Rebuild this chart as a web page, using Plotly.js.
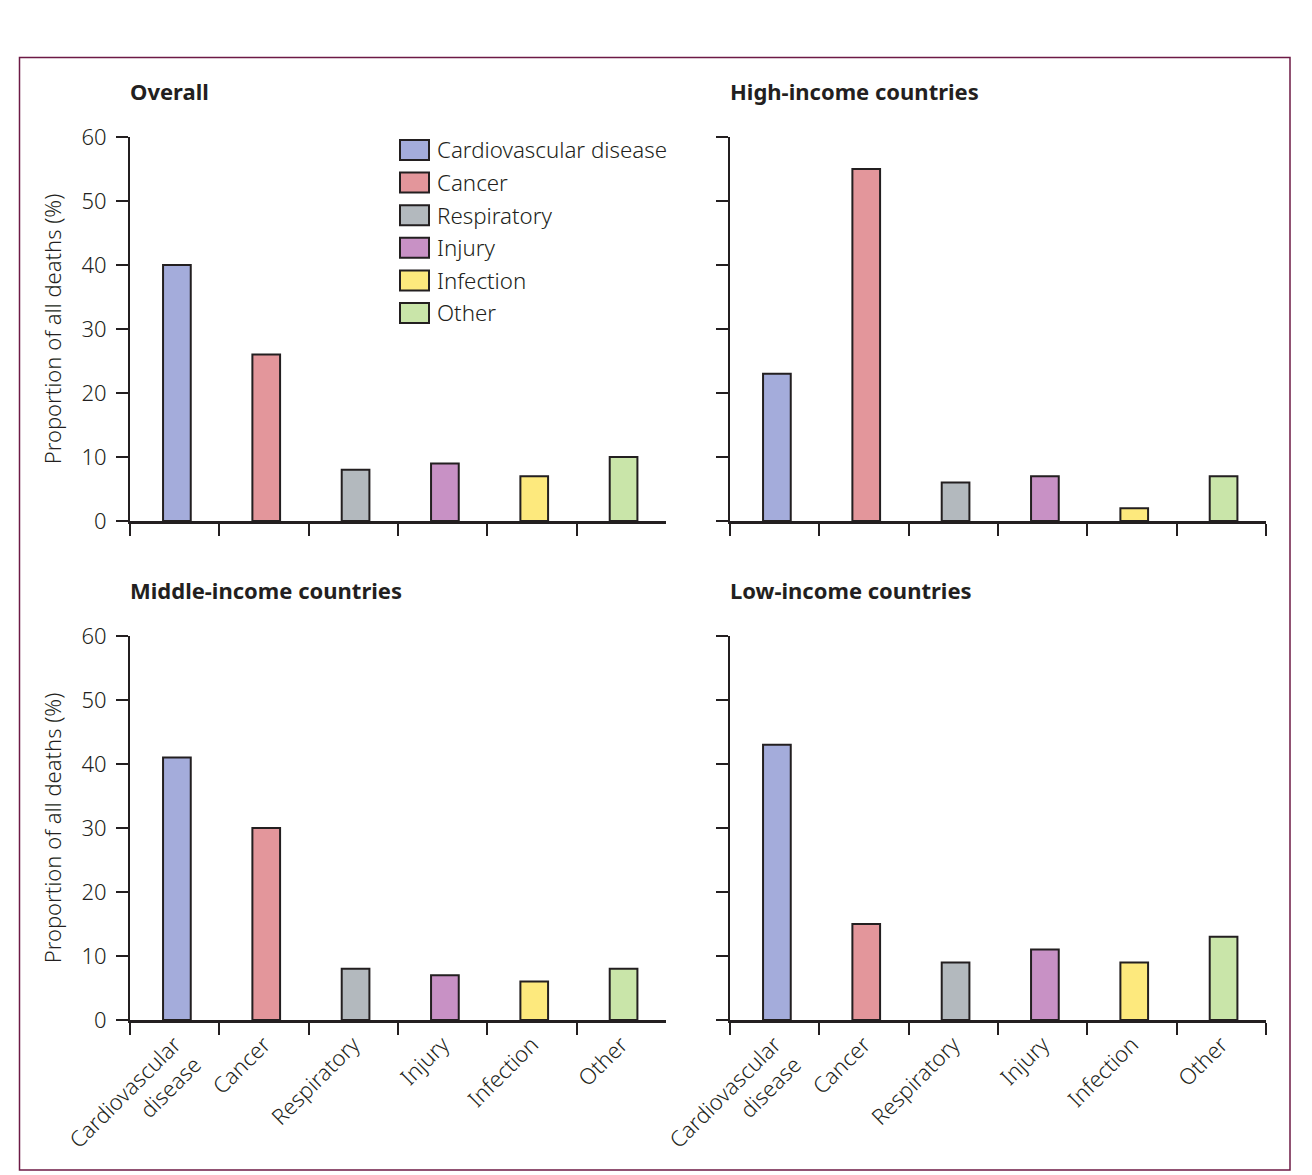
<!DOCTYPE html>
<html>
<head>
<meta charset="utf-8">
<script src="https://cdn.plot.ly/plotly-3.0.1.min.js"></script>
<style>html,body{margin:0;padding:0;background:#fff;}#chart{width:1312px;height:1175px;}</style>
</head>
<body>
<div id="chart"></div>
<script>
// ---- data ----
const categories = ['Cardiovascular disease', 'Cancer', 'Respiratory', 'Injury', 'Infection', 'Other'];
const overall = [40, 26, 8, 9, 7, 10];
const highIncome = [23, 55, 6, 7, 2, 7];
const middleIncome = [41, 30, 8, 7, 6, 8];
const lowIncome = [43, 15, 9, 11, 9, 13];
const colors = ['#a4acdb', '#e3969b', '#b3b9be', '#c891c5', '#fde97d', '#c9e5a9'];
const panelTitles = ['Overall', 'High-income countries', 'Middle-income countries', 'Low-income countries'];
const yTickVals = [0, 10, 20, 30, 40, 50, 60];
const yTitle = 'Proportion of all deaths (%)';

// ---- layout helpers ----
const W = 1312, H = 1175;
const px = x => x / W;
const py = y => 1 - y / H;
const ink = '#231f20';
const FONT = 'Noto Sans, Open Sans, sans-serif';

const xLabels = categories.map(c => c.replace(' disease', '<br>disease'));
const panels = [overall, highIncome, middleIncome, lowIncome];
const axisIds = ['', '2', '3', '4'];

const traces = panels.map((vals, i) => ({
  type: 'bar',
  x: xLabels,
  y: vals,
  xaxis: 'x' + axisIds[i],
  yaxis: 'y' + axisIds[i],
  width: 0.31,
  offset: -0.13,
  marker: { color: colors, line: { color: ink, width: 2 } },
  showlegend: false,
  hoverinfo: 'x+y'
}));

const xDomL = [px(130), px(666)];
const xDomR = [px(730), px(1266)];
const yDomT = [py(521), py(137)];
const yDomB = [py(1020), py(636)];

function xAxis(domain, anchor, showLabels) {
  return {
    domain: domain, anchor: anchor, type: 'category',
    range: [-0.5, 5.5], tickson: 'boundaries',
    showline: true, linecolor: ink, linewidth: 3,
    ticks: 'outside', ticklen: 12, tickwidth: 2, tickcolor: ink,
    showticklabels: showLabels, tickangle: -45,
    tickfont: { family: FONT, size: 22, color: ink, weight: 300 },
    showgrid: false, zeroline: false, fixedrange: true
  };
}
function yAxis(domain, anchor, showLabels) {
  return {
    domain: domain, anchor: anchor, range: [0, 60],
    tickmode: 'array', tickvals: yTickVals,
    showline: true, linecolor: ink, linewidth: 2,
    ticks: 'outside', ticklen: 12, tickwidth: 2, tickcolor: ink,
    showticklabels: showLabels, ticklabelstandoff: 5,
    tickfont: { family: FONT, size: 22, color: ink, weight: 300 },
    title: showLabels ? { text: yTitle, font: { family: FONT, size: 22, color: ink, weight: 300 }, standoff: 14 } : { text: '' },
    showgrid: false, zeroline: false, fixedrange: true
  };
}

const annotations = [];
const titlePos = [[128, 91], [728, 91], [128, 590], [728, 590]];
panelTitles.forEach((t, i) => {
  annotations.push({
    text: '<b>' + t + '</b>', xref: 'paper', yref: 'paper',
    x: px(titlePos[i][0]), y: py(titlePos[i][1]), xanchor: 'left', yanchor: 'middle',
    showarrow: false, font: { family: FONT, size: 22, color: ink }
  });
});

const shapes = [{
  type: 'rect', xref: 'paper', yref: 'paper',
  x0: px(19.5), x1: px(1290), y0: py(1170), y1: py(57.5),
  line: { color: '#6d1a45', width: 1.5 }, fillcolor: 'rgba(0,0,0,0)'
}];

// custom legend (swatches + labels)
categories.forEach((c, i) => {
  const cy = 150 + i * 32.6;
  shapes.push({
    type: 'rect', xref: 'paper', yref: 'paper',
    x0: px(400), x1: px(429), y0: py(cy + 10), y1: py(cy - 10),
    fillcolor: colors[i], line: { color: ink, width: 2 }
  });
  annotations.push({
    text: c, xref: 'paper', yref: 'paper', x: px(435), y: py(cy),
    xanchor: 'left', yanchor: 'middle', showarrow: false,
    font: { family: FONT, size: 22.3, color: ink, weight: 300 }
  });
});

const layout = {
  width: W, height: H,
  margin: { l: 0, r: 0, t: 0, b: 0 },
  paper_bgcolor: '#fff', plot_bgcolor: '#fff',
  showlegend: false, bargap: 0,
  font: { family: FONT, color: ink },
  xaxis: xAxis(xDomL, 'y', false),
  yaxis: yAxis(yDomT, 'x', true),
  xaxis2: xAxis(xDomR, 'y2', false),
  yaxis2: yAxis(yDomT, 'x2', false),
  xaxis3: xAxis(xDomL, 'y3', true),
  yaxis3: yAxis(yDomB, 'x3', true),
  xaxis4: xAxis(xDomR, 'y4', true),
  yaxis4: yAxis(yDomB, 'x4', false),
  annotations: annotations,
  shapes: shapes
};

Plotly.newPlot('chart', traces, layout, { displayModeBar: false, staticPlot: true });
</script>
</body>
</html>
